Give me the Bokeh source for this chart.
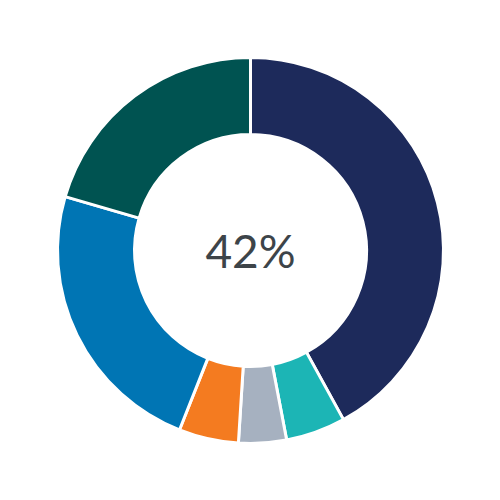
import numpy as np
from bokeh.plotting import figure
from bokeh.models import ColumnDataSource
from bokeh.core.properties import value
from bokeh.embed import file_html
from bokeh.resources import INLINE

categories = ["A", "B", "C", "D", "E", "F"]
values = [42, 5, 4, 5, 23.5, 20.5]
colors = ["#1d2a5b", "#1cb5b5", "#a6b1c0", "#f47b20", "#0075b4", "#005351"]
center_label = "42%"

vals = np.array(values, dtype=float)
frac = vals / vals.sum()
cum = np.concatenate([[0], np.cumsum(frac)])
start = np.pi / 2 - cum[:-1] * 2 * np.pi
end = np.pi / 2 - cum[1:] * 2 * np.pi

src = ColumnDataSource(dict(cat=categories, start=start, end=end, color=colors))

W = 484
p = figure(width=W, height=W, x_range=(-250, 234), y_range=(-234, 250),
           output_backend="svg", toolbar_location=None, min_border=0,
           outline_line_color=None, background_fill_color="white")
p.axis.visible = False
p.grid.visible = False

p.annular_wedge(x=0, y=0, inner_radius=116, outer_radius=193,
                start_angle="start", end_angle="end", direction="clock",
                fill_color="color", line_color="white", line_width=3, source=src)

p.text(x=[0], y=[0], text=[center_label], text_align="center", text_baseline="middle",
       text_font=value("Lato"), text_font_size="46px", text_color="#3d4449")

open("out.html", "w").write(file_html(p, INLINE))
